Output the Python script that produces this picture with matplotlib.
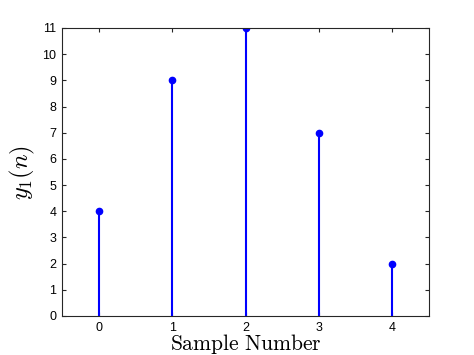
import matplotlib
matplotlib.use("Agg")
import matplotlib.pyplot as plt

samples = [0, 1, 2, 3, 4]
values = [4, 9, 11, 7, 2]
yticks = list(range(0, 12))

plt.rcParams['mathtext.fontset'] = 'cm'
plt.rcParams['font.family'] = ['Liberation Sans', 'DejaVu Sans']

fig = plt.figure(figsize=(4.74, 3.55), dpi=100)
ax = fig.add_axes([62/474, 39/355, (429-62)/474, (316-28)/355])

markerline, stemlines, baseline = ax.stem(samples, values, linefmt='b-', markerfmt='bo', basefmt=' ')
plt.setp(stemlines, linewidth=1.5, color=(0, 0, 1))
plt.setp(markerline, markersize=4.5, color=(0, 0, 1))

ax.set_xlim(-0.5, 4.5)
ax.set_ylim(0, 11)
ax.set_xticks(samples)
ax.set_yticks(yticks)
ax.tick_params(direction='in', top=True, right=True, labelsize=9, length=3, width=0.8,
               colors='#262626', labelcolor='black', pad=4)
for s in ax.spines.values():
    s.set_linewidth(0.8)
    s.set_color('#262626')

ax.set_xlabel(r'$\mathrm{Sample\ Number}$', fontsize=15.5, labelpad=-1)
ax.set_ylabel(r'$y_1(n)$', fontsize=17.5, labelpad=4)

fig.savefig('out.png', dpi=100)
